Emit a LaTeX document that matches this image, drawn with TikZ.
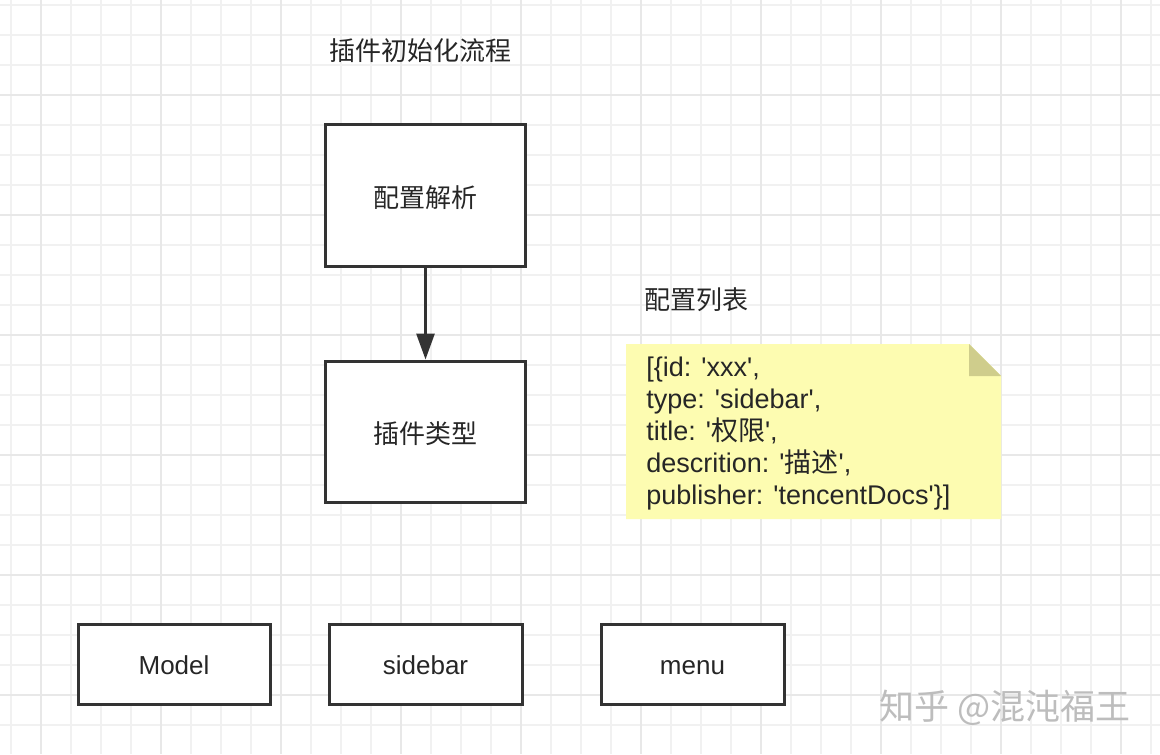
\documentclass[tikz,border=0pt]{standalone}
\usepackage{fontspec}
\setmainfont{Noto Sans CJK SC}
\newfontfamily\latinfont{Liberation Sans}[Ligatures=TeXOff]
\newfontfamily\cjkfont{Noto Sans CJK SC}[Ligatures=TeXOff]
\usetikzlibrary{arrows.meta}
\definecolor{minorgrid}{HTML}{F1F1F1}
\definecolor{majorgrid}{HTML}{E8E8E8}
\definecolor{boxline}{HTML}{333333}
\definecolor{notefill}{HTML}{FDFCB1}
\definecolor{notefold}{HTML}{CFCD8C}
\definecolor{wmark}{HTML}{BDBDBD}
\newcommand{\sqt}{\char"0027\relax}
\tikzset{
  box/.style={draw=boxline, line width=1.5pt, fill=white, inner sep=0pt,
    text height=13pt, text depth=1.5pt, text=black!85, font=\fontsize{13}{15}\selectfont},
  latinbox/.style={box, text height=12.5pt, text depth=2.5pt, font=\latinfont\fontsize{13}{15}\selectfont},
  lbl/.style={inner sep=0pt, text=black!85, font=\fontsize{13}{15}\selectfont},
  conn/.style={draw=boxline, line width=1.5pt, -{Triangle[length=13pt,width=9pt]}},
}
\begin{document}
\begin{tikzpicture}[x=0.5pt,y=-0.5pt]
\useasboundingbox (0,0) rectangle (1160,754);
\fill[white] (0,0) rectangle (1160,754);
% grid
\foreach \gx in {11,41,...,1160} {\draw[minorgrid, line width=0.6pt] (\gx,0) -- (\gx,754);}
\foreach \gy in {5,35,...,754} {\draw[minorgrid, line width=0.6pt] (0,\gy) -- (1160,\gy);}
\foreach \gx in {41,161,...,1160} {\draw[majorgrid, line width=0.7pt] (\gx,0) -- (\gx,754);}
\foreach \gy in {95,215,...,754} {\draw[majorgrid, line width=0.7pt] (0,\gy) -- (1160,\gy);}
% title
\node[lbl] (title) at (420,51) {插件初始化流程};
% boxes
\node[box, minimum width=100pt, minimum height=70.5pt] (parse) at (425.5,195.5) {配置解析};
\node[box, minimum width=100pt, minimum height=70.5pt] (ptype) at (425.5,431.5) {插件类型};
\draw[conn] (parse) -- (ptype);
\node[latinbox, minimum width=96pt, minimum height=40pt] (model) at (174,664) {Model};
\node[latinbox, minimum width=96.5pt, minimum height=40pt] (sidebar) at (425.5,664) {sidebar};
\node[latinbox, minimum width=91.5pt, minimum height=40pt] (menu) at (692.5,664) {menu};
% note
\node[lbl] (listlbl) at (696,300) {配置列表};
\fill[notefill] (626,344) -- (969,344) -- (1001,376) -- (1001,519) -- (626,519) -- cycle;
\fill[notefold] (969,344) -- (969,376) -- (1001,376) -- cycle;
\node[lbl, anchor=north west, align=left, font=\latinfont\fontsize{13.5}{16}\selectfont] (notetext) at (646,357)
  {[\{id: \sqt xxx\sqt,\\type: \sqt sidebar\sqt,\\title: \sqt{\cjkfont 权限}\sqt,\\descrition: \sqt{\cjkfont 描述}\sqt,\\publisher: \sqt tencentDocs\sqt\}]};
% watermark
\node[inner sep=0pt, text=wmark, font=\fontsize{17.5}{20}\selectfont] (wm) at (1005,708) {知乎 @混沌福王};
\end{tikzpicture}
\end{document}
